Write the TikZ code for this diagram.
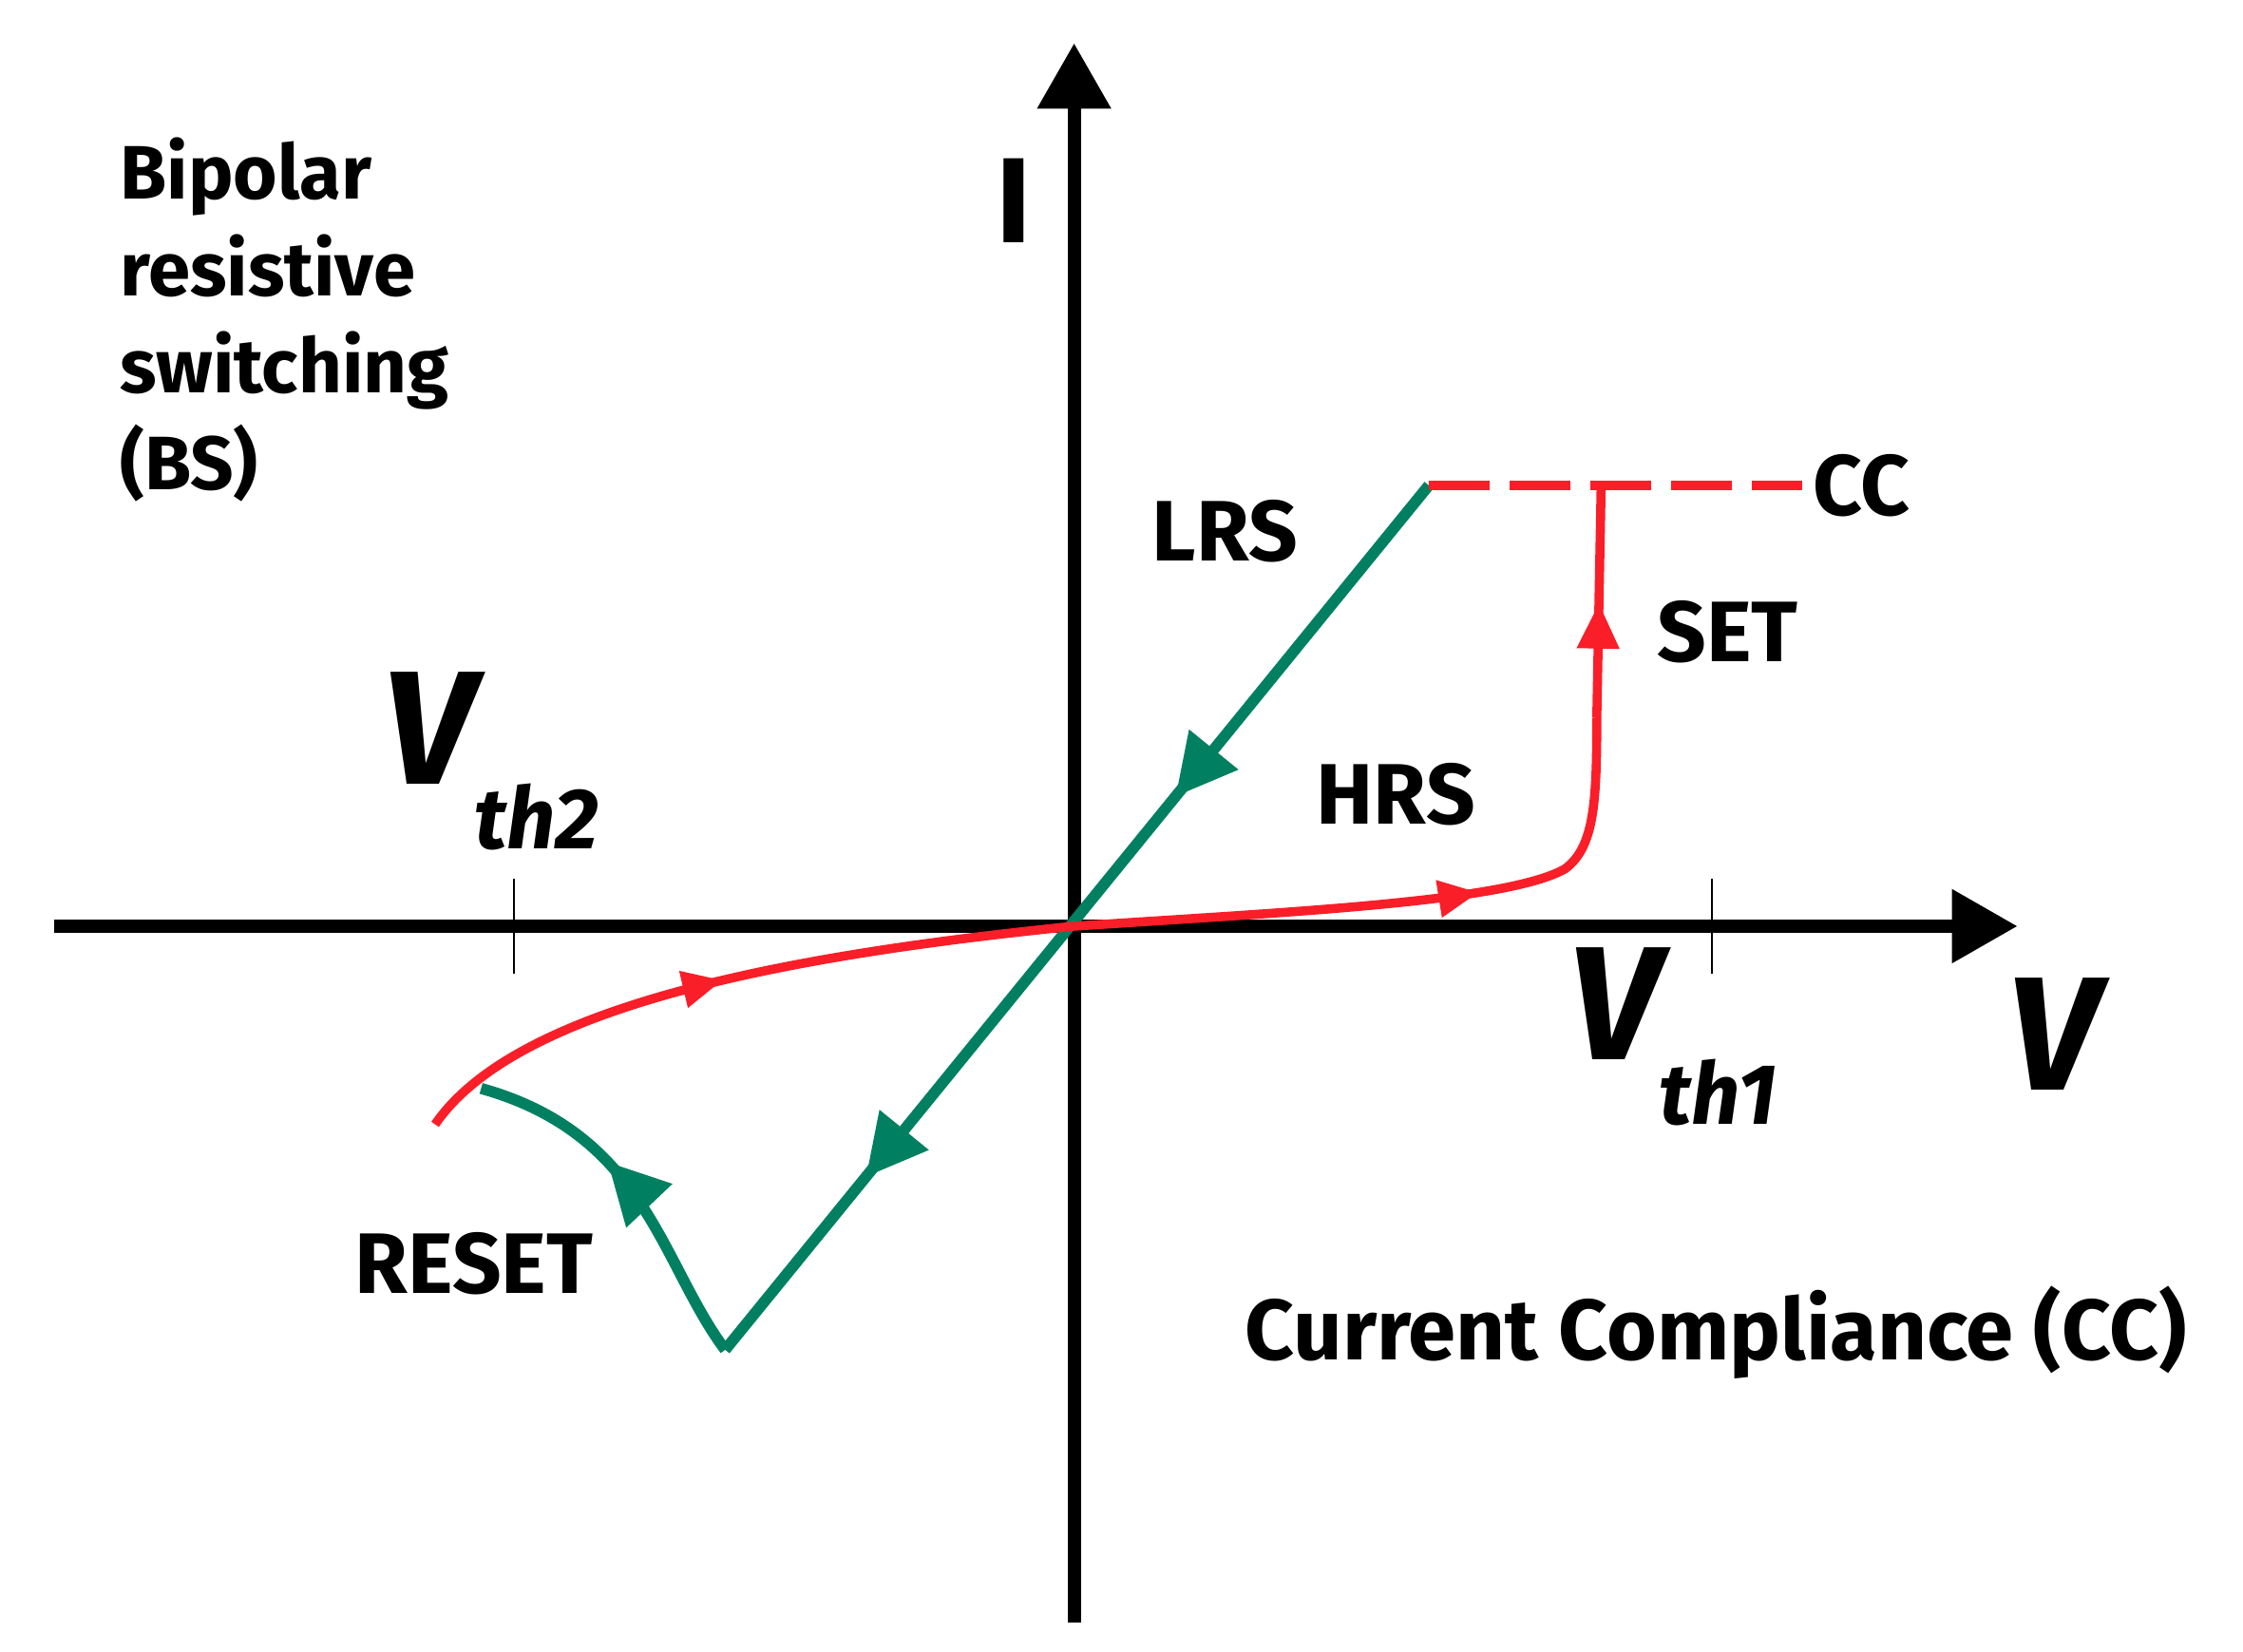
\documentclass[tikz,border=0pt]{standalone}
\usepackage{fontspec}
\setmainfont{Fira Sans}
\usetikzlibrary{arrows.meta,decorations.markings}
\definecolor{gr}{RGB}{0,128,96}
\definecolor{rd}{RGB}{250,30,40}
\tikzset{
 lbl/.style={font=\fontsize{17}{19}\selectfont\bfseries, inner sep=0pt},
 mk/.style={postaction={decorate,decoration={markings,mark=at position #1 with {\arrow{Triangle[length=12pt,width=12pt]}}}}},
 mkm/.style={postaction={decorate,decoration={markings,mark=at position #1 with {\arrow{Triangle[length=9pt,width=8pt]}}}}},
 mks/.style={postaction={decorate,decoration={markings,mark=at position #1 with {\arrow{Triangle[length=8pt,width=7pt]}}}}},
}
\begin{document}
\begin{tikzpicture}[x=0.01cm,y=-0.01cm]
\useasboundingbox (0,0) rectangle (1562,1150);
\coordinate (O) at (748,645);
\coordinate (xl) at (38,645); \coordinate (xr) at (1405,645);
\coordinate (yb) at (748,1130); \coordinate (yt) at (748,30);
\draw[line width=2.6pt,-{Triangle[length=13pt,width=14pt]}] (xl) -- (xr);
\draw[line width=2.6pt,-{Triangle[length=13pt,width=14pt]}] (yb) -- (yt);
\draw[thin] (358,612) -- (358,678);
\draw[thin] (1192,612) -- (1192,678);
% green
\coordinate (g1) at (995,338); \coordinate (g2) at (505,940); \coordinate (g3) at (335,758);
\draw[gr,line width=2.2pt,mk=0.36,mk=0.8] (g1) -- (g2);
\draw[gr,line width=2.2pt,mk=0.6] (g2) .. controls (460,880) and (450,790) .. (g3);
% red
\coordinate (r0) at (303,783); \coordinate (r3) at (1115,340); \coordinate (cc) at (1255,338);
\draw[rd,line width=1.8pt,mks=0.48] (r0) .. controls (360,700) and (550,665) .. (O);
\draw[rd,line width=1.8pt,mks=0.62] (O) .. controls (900,635) and (1050,628) .. (1090,605)
  .. controls (1110,590) and (1112,560) .. (1112,500);
\draw[rd,line width=1.8pt,mkm=0.5] (1112,500) -- (r3);
\draw[rd,line width=2pt,dash pattern=on 12pt off 4pt] (g1) -- (cc);
% texts
\node[lbl,anchor=north west,align=left,font=\fontsize{15}{19.2}\selectfont\bfseries] (bs) at (83,95) {Bipolar\\resistive\\switching\\(BS)};
\node[lbl,font=\fontsize{24}{26}\selectfont\bfseries] (I) at (706,140) {I};
\node[lbl] (lrs) at (853,370) {LRS};
\node[lbl] (set) at (1203,440) {SET};
\node[lbl] (hrs) at (972,553) {HRS};
\node[lbl,anchor=west] (ccl) at (1262,338) {CC};
\node[lbl] (reset) at (330,880) {RESET};
\node[lbl] (ccc) at (1195,928) {Current Compliance (CC)};
\node[lbl,font=\fontsize{32}{34}\selectfont\bfseries\itshape] (vth2) at (342,530) {V\raisebox{-0.4em}{\fontsize{17}{20}\selectfont th2}};
\node[lbl,font=\fontsize{32}{34}\selectfont\bfseries\itshape] (vth1) at (1165,722) {V\raisebox{-0.4em}{\fontsize{17}{20}\selectfont th1}};
\node[lbl,font=\fontsize{32}{34}\selectfont\bfseries\itshape] (vl) at (1430,720) {V};
\end{tikzpicture}
\end{document}
